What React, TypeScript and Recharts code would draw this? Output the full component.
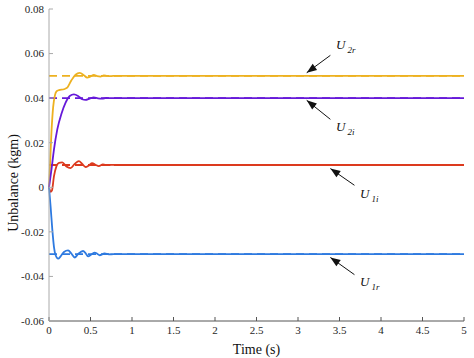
import React from 'react';
import { LineChart, Line, XAxis, YAxis, ReferenceLine, ReferenceDot } from 'recharts';

// estimated (solid) responses, [time s, unbalance kgm]
const u2r: [number, number][] = [
  [0, 0], [0.01, 0.008], [0.03, 0.025], [0.05, 0.036], [0.07, 0.041], [0.09, 0.043],
  [0.12, 0.0436], [0.18, 0.044], [0.22, 0.0447], [0.27, 0.048], [0.32, 0.0505],
  [0.37, 0.0513], [0.42, 0.0503], [0.46, 0.0492], [0.5, 0.0497], [0.54, 0.0504],
  [0.58, 0.0499], [0.62, 0.0497], [0.66, 0.0502], [0.7, 0.05], [0.75, 0.0499],
  [0.8, 0.05], [5, 0.05],
];
const u2i: [number, number][] = [
  [0, 0], [0.03, 0.008], [0.06, 0.017], [0.1, 0.026], [0.15, 0.033], [0.2, 0.038],
  [0.25, 0.041], [0.3, 0.0417], [0.35, 0.041], [0.4, 0.0395], [0.44, 0.0392],
  [0.49, 0.0398], [0.54, 0.0403], [0.59, 0.0399], [0.64, 0.0398], [0.69, 0.0401],
  [0.75, 0.04], [5, 0.04],
];
const u1i: [number, number][] = [
  [0, 0], [0.02, -0.002], [0.035, -0.0015], [0.06, 0.005], [0.09, 0.0095], [0.12, 0.011],
  [0.16, 0.0112], [0.21, 0.0093], [0.26, 0.0086], [0.31, 0.0105], [0.36, 0.0117],
  [0.4, 0.0105], [0.44, 0.0091], [0.48, 0.0098], [0.52, 0.0108], [0.56, 0.0101],
  [0.6, 0.0095], [0.65, 0.0103], [0.7, 0.0099], [0.75, 0.0101], [0.8, 0.01], [5, 0.01],
];
const u1r: [number, number][] = [
  [0, 0], [0.02, -0.009], [0.04, -0.019], [0.06, -0.0268], [0.08, -0.0305], [0.11, -0.032],
  [0.14, -0.031], [0.18, -0.029], [0.23, -0.0283], [0.27, -0.0298], [0.31, -0.0315],
  [0.35, -0.030], [0.41, -0.0286], [0.44, -0.0295], [0.47, -0.031], [0.51, -0.0302],
  [0.55, -0.0293], [0.58, -0.0298], [0.61, -0.0305], [0.67, -0.0297], [0.72, -0.0301],
  [0.78, -0.03], [5, -0.03],
];

// true (dashed) values
const trueValues = { u2r: 0.05, u2i: 0.04, u1i: 0.01, u1r: -0.03 };

const xTicks = [0, 0.5, 1, 1.5, 2, 2.5, 3, 3.5, 4, 4.5, 5];
const yTicks = [-0.06, -0.04, -0.02, 0, 0.02, 0.04, 0.06, 0.08];

const arrows = [
  { name: '2r', tail: [3.39, 0.0592], head: [3.105, 0.0514], label: [3.458, 0.0619], angle: 144.7 },
  { name: '2i', tail: [3.39, 0.0305], head: [3.105, 0.039], label: [3.458, 0.0251], angle: -141.6 },
  { name: '1i', tail: [3.68, 0.0009], head: [3.39, 0.0084], label: [3.747, -0.0047], angle: -145.5 },
  { name: '1r', tail: [3.68, -0.0392], head: [3.39, -0.0315], label: [3.747, -0.0444], angle: -145 },
];

const toRows = (pts: [number, number][]) => pts.map(([t, v]) => ({ t, v }));
const flat = (v: number) => [{ t: 0, v }, { t: 5, v }];

const font = 'Liberation Serif';
const fmt = (v: number) => (Math.abs(v) < 1e-9 ? '0' : String(+v.toFixed(2)));

const series = [
  { key: 'u2r', pts: u2r, color: '#EDB120' },
  { key: 'u2i', pts: u2i, color: '#6619D9' },
  { key: 'u1i', pts: u1i, color: '#DC3A1E' },
  { key: 'u1r', pts: u1r, color: '#2E7AE0' },
];

const tickStyle = { fill: '#262626', fontSize: 11, fontFamily: font, style: { fontFamily: font } };

export default function App() {
  return (
    <div style={{ position: 'fixed', left: 0, top: 0, background: '#fff', fontFamily: font }}>
      <LineChart width={474} height={358} margin={{ top: 9, right: 10, bottom: 0, left: 0 }} style={{ fontFamily: font }}>
        <XAxis
          dataKey="t"
          type="number"
          domain={[0, 5]}
          ticks={xTicks}
          tickFormatter={fmt}
          allowDuplicatedCategory={false}
          height={37}
          tickSize={-4}
          tickMargin={9}
          stroke="#555"
          tick={tickStyle}
          label={{ value: 'Time (s)', position: 'insideBottom', offset: 4, fill: '#111', fontSize: 14, style: { fontFamily: font } }}
        />
        <XAxis
          xAxisId="top"
          orientation="top"
          dataKey="t"
          type="number"
          domain={[0, 5]}
          ticks={xTicks}
          tickFormatter={() => ''}
          height={0}
          tickSize={-4}
          stroke="#555"
        />
        <YAxis
          type="number"
          domain={[-0.06, 0.08]}
          ticks={yTicks}
          tickFormatter={fmt}
          width={49}
          tickSize={-4}
          tickMargin={9}
          stroke="#aaa"
          tick={tickStyle}
          label={{
            value: 'Unbalance (kgm)',
            content: () => (
              <text
                x={0}
                y={0}
                transform="translate(13,183) rotate(-90)"
                textAnchor="middle"
                dominantBaseline="central"
                fill="#111"
                fontSize={14}
                style={{ fontFamily: font }}
              >
                Unbalance (kgm)
              </text>
            ),
          }}
        />
        <YAxis
          yAxisId="right"
          orientation="right"
          type="number"
          domain={[-0.06, 0.08]}
          ticks={yTicks}
          tickFormatter={() => ''}
          width={0}
          tickSize={-4}
          stroke="#aaa"
        />
        {series.map(s => (
          <Line
            key={s.key + '-true'}
            data={flat(trueValues[s.key as keyof typeof trueValues])}
            dataKey="v"
            stroke={s.color}
            strokeWidth={1.8}
            strokeDasharray="8 5"
            dot={false}
            isAnimationActive={false}
          />
        ))}
        {series.map(s => (
          <Line
            key={s.key}
            data={toRows(s.pts)}
            dataKey="v"
            type="monotone"
            stroke={s.color}
            strokeWidth={1.8}
            dot={false}
            isAnimationActive={false}
          />
        ))}
        {arrows.map(a => (
          <ReferenceLine
            key={a.name + '-shaft'}
            segment={[{ x: a.tail[0], y: a.tail[1] }, { x: a.head[0], y: a.head[1] }]}
            stroke="#111"
            strokeWidth={1}
          />
        ))}
        {arrows.map(a => (
          <ReferenceDot
            key={a.name + '-head'}
            x={a.head[0]}
            y={a.head[1]}
            shape={(p: any) => (
              <polygon
                points="0,0 -10,-3.8 -10,3.8"
                fill="#111"
                transform={`translate(${p.cx},${p.cy}) rotate(${a.angle})`}
              />
            )}
          />
        ))}
        {arrows.map(a => (
          <ReferenceDot
            key={a.name + '-label'}
            x={a.label[0]}
            y={a.label[1]}
            shape={(p: any) => (
              <text x={p.cx} y={p.cy} style={{ fontFamily: font, fontStyle: 'italic' }} fontSize={13} fill="#111">
                U
                <tspan dx={2} dy={4} fontSize={9}>{a.name}</tspan>
              </text>
            )}
          />
        ))}
      </LineChart>
    </div>
  );
}
